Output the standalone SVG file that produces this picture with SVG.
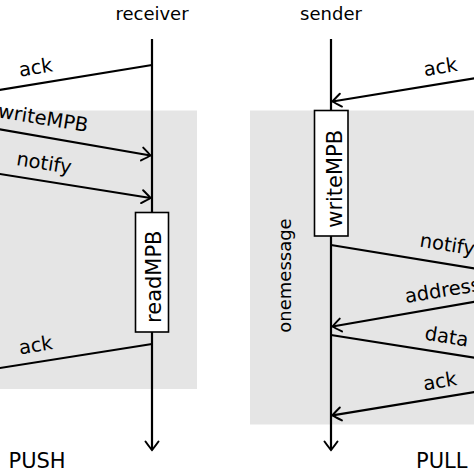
<svg xmlns="http://www.w3.org/2000/svg" width="474" height="474" viewBox="0 0 474 474">
<style>
  text { font-family: "DejaVu Sans", sans-serif; fill: #000; }
  .title { font-size: 18px; text-anchor: middle; }
  .lbl { font-size: 19.5px; }
  .mid { text-anchor: middle; }
  .boxlbl { font-size: 21px; text-anchor: middle; }
  .panel { font-size: 21px; }
  .frame { fill: #e5e5e5; stroke: none; }
  .life { stroke: #000; stroke-width: 2.2; fill: none; }
  .msg { stroke: #000; stroke-width: 2.2; fill: none; }
  .box { fill: #fff; stroke: #000; stroke-width: 1.6; }
</style>
<defs>
  <marker id="to" markerUnits="userSpaceOnUse" markerWidth="20" markerHeight="20" refX="0" refY="0" viewBox="-12 -10 14 20" orient="auto" overflow="visible">
    <path d="M -8.5 -6.5 Q -2 -1.8 0 0 Q -2 1.8 -8.5 6.5" fill="none" stroke="#000" stroke-width="2" stroke-linecap="round"/>
  </marker>
</defs>

<g id="push-frame">
  <rect class="frame" x="0" y="110.5" width="197" height="278.5"/>
  <text class="panel" x="8.5" y="468">PUSH</text>
</g>
<g id="pull-frame">
  <rect class="frame" x="250" y="110.5" width="224" height="314"/>
  <text class="panel" x="416" y="468">PULL</text>
  <text style="font-size:18px" text-anchor="middle" x="291" y="275.5" transform="rotate(-90 291 275.5)">onemessage</text>
</g>

<g id="receiver">
  <text class="title" x="152" y="20">receiver</text>
  <line class="life" x1="152" y1="39" x2="152" y2="450" marker-end="url(#to)"/>
</g>
<g id="sender">
  <text class="title" x="331" y="20">sender</text>
  <line class="life" x1="331" y1="39" x2="331" y2="450" marker-end="url(#to)"/>
</g>

<g id="connectors">
  <line class="msg" x1="152" y1="65" x2="-5" y2="90.8"/>
  <text class="lbl mid" x="36.7" y="74" transform="rotate(-9.3 36.7 74)">ack</text>

  <line class="msg" x1="-5" y1="128.6" x2="150.5" y2="155.5" marker-end="url(#to)"/>
  <text class="lbl" text-anchor="end" x="87" y="132" transform="rotate(9.3 87 132)">writeMPB</text>

  <line class="msg" x1="-5" y1="173.2" x2="150.5" y2="198" marker-end="url(#to)"/>
  <text class="lbl mid" x="43" y="169.5" transform="rotate(9.3 43 169.5)">notify</text>

  <line class="msg" x1="152" y1="344" x2="-5" y2="368.8"/>
  <text class="lbl mid" x="36.7" y="351.7" transform="rotate(-9.3 36.7 351.7)">ack</text>

  <line class="msg" x1="479" y1="77.5" x2="332.5" y2="101.5" marker-end="url(#to)"/>
  <text class="lbl mid" x="441.5" y="73.4" transform="rotate(-9.3 441.5 73.4)">ack</text>

  <line class="msg" x1="331" y1="245" x2="479" y2="269.1"/>
  <text class="lbl" x="419" y="246.5" transform="rotate(9.3 419 246.5)">notify</text>

  <line class="msg" x1="479" y1="300.9" x2="332.5" y2="326.5" marker-end="url(#to)"/>
  <text class="lbl" x="406" y="303" transform="rotate(-9.3 406 303)">address</text>

  <line class="msg" x1="331" y1="335" x2="479" y2="358.3"/>
  <text class="lbl" x="424" y="339.5" transform="rotate(9.3 424 339.5)">data</text>

  <line class="msg" x1="479" y1="391.2" x2="332.5" y2="415.3" marker-end="url(#to)"/>
  <text class="lbl mid" x="441" y="387.7" transform="rotate(-9.3 441 387.7)">ack</text>
</g>

<g id="readMPB">
  <rect class="box" x="135.5" y="212.5" width="33" height="119.5"/>
  <text class="boxlbl" x="161.5" y="276.7" transform="rotate(-90 161.5 276.7)">readMPB</text>
</g>
<g id="writeMPB">
  <rect class="box" x="314.5" y="110.5" width="33.5" height="125.5"/>
  <text class="boxlbl" x="342.5" y="178.8" transform="rotate(-90 342.5 178.8)">writeMPB</text>
</g>
</svg>
